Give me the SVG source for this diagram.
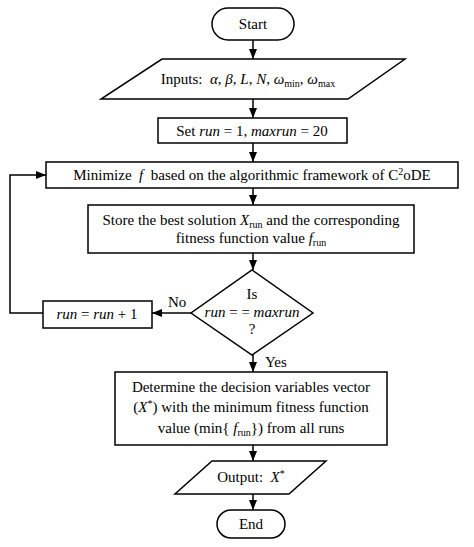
<svg xmlns="http://www.w3.org/2000/svg" width="474" height="547" viewBox="0 0 474 547">
<style>
.s{fill:#fff;stroke:#000;stroke-width:1.5}
.t{font-family:"Liberation Serif","Times New Roman",serif;font-size:15px;fill:#000}
.i{font-style:italic}
.sub{font-size:10px}
.c{stroke:#000;stroke-width:1.5;fill:none}
</style>
<defs>
<marker id="ah" markerWidth="10" markerHeight="8" refX="10" refY="4" orient="auto" markerUnits="userSpaceOnUse">
<path d="M0,0 L10,4 L0,8 Z" fill="#000"/>
</marker>
</defs>
<rect width="474" height="547" fill="#fff"/>
<g id="connectors">
<line class="c" x1="253" y1="40" x2="253" y2="59" marker-end="url(#ah)"/>
<line class="c" x1="253" y1="99" x2="253" y2="118" marker-end="url(#ah)"/>
<line class="c" x1="253" y1="143" x2="253" y2="162" marker-end="url(#ah)"/>
<line class="c" x1="253" y1="188" x2="253" y2="205" marker-end="url(#ah)"/>
<line class="c" x1="253" y1="253" x2="253" y2="270" marker-end="url(#ah)"/>
<line class="c" x1="191" y1="313" x2="152" y2="313" marker-end="url(#ah)"/>
<polyline class="c" points="43,313 10,313 10,175 46,175" marker-end="url(#ah)"/>
<line class="c" x1="253" y1="355" x2="253" y2="372" marker-end="url(#ah)"/>
<line class="c" x1="253" y1="445" x2="253" y2="461" marker-end="url(#ah)"/>
<line class="c" x1="253" y1="494" x2="253" y2="510" marker-end="url(#ah)"/>
<text class="t" x="168" y="307">No</text>
<text class="t" x="265" y="367">Yes</text>
</g>
<g id="start">
<rect class="s" x="212" y="8" width="82" height="32" rx="16"/>
<text class="t" x="253" y="29" text-anchor="middle">Start</text>
</g>
<g id="inputs">
<polygon class="s" points="162,59 405,59 348,99 101,99"/>
<text class="t" x="248" y="84" text-anchor="middle">Inputs:&#160; <tspan class="i">α</tspan>, <tspan class="i">β</tspan>, <tspan class="i">L</tspan>, <tspan class="i">N</tspan>, <tspan class="i">ω</tspan><tspan class="sub" dy="3">min</tspan><tspan dy="-3">, </tspan><tspan class="i">ω</tspan><tspan class="sub" dy="3">max</tspan></text>
</g>
<g id="set">
<rect class="s" x="158" y="118" width="189" height="25"/>
<text class="t" x="252" y="136" text-anchor="middle">Set <tspan class="i">run</tspan> = 1, <tspan class="i">maxrun</tspan> = 20</text>
</g>
<g id="minimize">
<rect class="s" x="46" y="162" width="412" height="26"/>
<text class="t" x="252" y="180" text-anchor="middle">Minimize&#160; <tspan class="i">f</tspan>&#160; based on the algorithmic framework of C<tspan class="sub" dy="-5">2</tspan><tspan dy="5">oDE</tspan></text>
</g>
<g id="store">
<rect class="s" x="88" y="205" width="326" height="48"/>
<text class="t" x="251" y="225" text-anchor="middle">Store the best solution <tspan class="i">X</tspan><tspan class="sub" dy="3">run</tspan><tspan dy="-3"> and the corresponding</tspan></text>
<text class="t" x="251" y="243" text-anchor="middle">fitness function value <tspan class="i">f</tspan><tspan class="sub" dy="3">run</tspan></text>
</g>
<g id="decision">
<polygon class="s" points="252,270 313,313 252,355 191,313"/>
<text class="t" x="252" y="299" text-anchor="middle">Is</text>
<text class="t" x="252" y="317" text-anchor="middle"><tspan class="i">run</tspan> = = <tspan class="i">maxrun</tspan></text>
<text class="t" x="252" y="334" text-anchor="middle">?</text>
</g>
<g id="increment">
<rect class="s" x="43" y="301" width="109" height="27"/>
<text class="t" x="97" y="319" text-anchor="middle"><tspan class="i">run</tspan> = <tspan class="i">run</tspan> + 1</text>
</g>
<g id="determine">
<rect class="s" x="115" y="372" width="272" height="73"/>
<text class="t" x="251" y="392" text-anchor="middle">Determine the decision variables vector</text>
<text class="t" x="251" y="412" text-anchor="middle">(<tspan class="i">X</tspan><tspan class="sub" dy="-5">*</tspan><tspan dy="5">) with the minimum fitness function</tspan></text>
<text class="t" x="251" y="433" text-anchor="middle">value (min{ <tspan class="i">f</tspan><tspan class="sub" dy="3">run</tspan><tspan dy="-3">}) from all runs</tspan></text>
</g>
<g id="output">
<polygon class="s" points="212,461 326,461 289,494 175,494"/>
<text class="t" x="251" y="482" text-anchor="middle">Output:&#160; <tspan class="i">X</tspan><tspan class="sub" dy="-5">*</tspan></text>
</g>
<g id="end">
<rect class="s" x="217" y="510" width="68" height="28" rx="14"/>
<text class="t" x="251" y="529" text-anchor="middle">End</text>
</g>
</svg>
